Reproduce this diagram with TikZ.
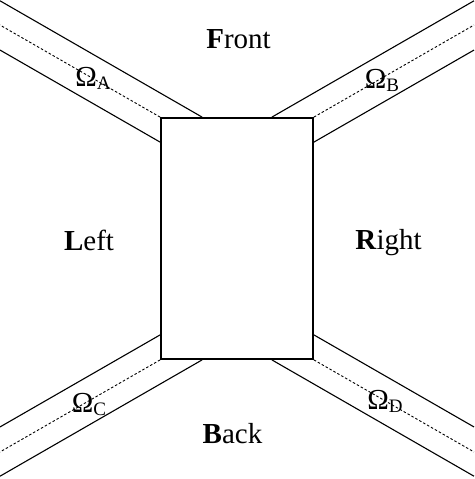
\documentclass[tikz,border=0pt]{standalone}
\usepackage{fontspec}
\setmainfont{Liberation Serif}
\newcommand\omsub[1]{{\fontsize{19}{20}\selectfont\raisebox{-3pt}{#1}}}
\begin{document}
\begin{tikzpicture}[x=1pt,y=-1pt,
  band/.style={line width=1.1pt},
  mid/.style={line width=0.9pt,dash pattern=on 2.5pt off 2pt},
  lbl/.style={font=\fontsize{29}{32}\selectfont, inner sep=0pt, anchor=base}]
\useasboundingbox (0,0) rectangle (474,479);
\node[draw, line width=1.8pt, minimum width=152pt, minimum height=241pt, inner sep=0pt] (box) at (237,238.5) {};
% band A (upper left)
\coordinate (aD) at (0,25.05);
\coordinate (aU) at (0,0.8);
\coordinate (aL) at (0,50.05);
\draw[mid] (box.north west) -- (aD);
\draw[band] ([xshift=42pt]box.north west) -- (aU);
\draw[band] ([yshift=-25pt]box.north west) -- (aL);
% band B (upper right)
\coordinate (bD) at (474,25.05);
\coordinate (bU) at (474,0.8);
\coordinate (bL) at (474,50.05);
\draw[mid] (box.north east) -- (bD);
\draw[band] ([xshift=-42pt]box.north east) -- (bU);
\draw[band] ([yshift=-25pt]box.north east) -- (bL);
% band C (lower left)
\coordinate (cD) at (0,451.95);
\coordinate (cU) at (0,426.95);
\coordinate (cL) at (0,476.2);
\draw[mid] (box.south west) -- (cD);
\draw[band] ([yshift=25pt]box.south west) -- (cU);
\draw[band] ([xshift=42pt]box.south west) -- (cL);
% band D (lower right)
\coordinate (dD) at (474,451.95);
\coordinate (dU) at (474,426.95);
\coordinate (dL) at (474,476.2);
\draw[mid] (box.south east) -- (dD);
\draw[band] ([yshift=25pt]box.south east) -- (dU);
\draw[band] ([xshift=-42pt]box.south east) -- (dL);
% labels
\node[lbl] (front) at (238.5,48) {\textbf{F}ront};
\node[lbl] (left) at (89,250) {\textbf{L}eft};
\node[lbl] (right) at (388.5,249) {\textbf{R}ight};
\node[lbl] (back) at (232.5,443) {\textbf{B}ack};
\node[lbl] (oa) at (93,86) {Ω\omsub{A}};
\node[lbl] (ob) at (382,88) {Ω\omsub{B}};
\node[lbl] (oc) at (89,412) {Ω\omsub{C}};
\node[lbl] (od) at (385,409) {Ω\omsub{D}};
\end{tikzpicture}
\end{document}
